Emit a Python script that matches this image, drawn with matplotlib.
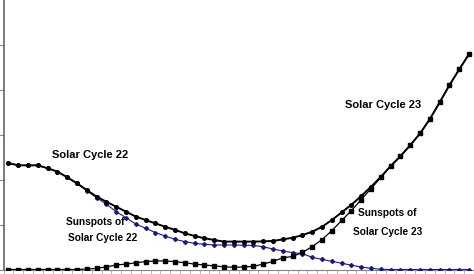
import matplotlib
matplotlib.use("Agg")
import matplotlib.pyplot as plt
import numpy as np

# Monthly index (48 months)
months = list(range(48))

total = [47.3, 46.3, 46.3, 46.3, 45.0, 43.5, 41.0, 38.3, 35.3, 32.4,
         30.1, 27.9, 25.7, 23.5, 22.0, 20.5, 19.0, 17.6, 16.1, 14.9,
         13.9, 13.1, 12.4, 12.4, 12.4, 12.4, 12.5, 12.7, 13.4, 14.1,
         15.3, 16.8, 19.0, 22.0, 25.4, 28.8, 32.7, 36.8, 41.2, 46.0,
         50.4, 55.3, 60.5, 66.9, 74.3, 82.0, 89.0, 95.8]

sunspots22 = [47.3, 46.3, 46.3, 46.3, 45.0, 43.5, 41.0, 38.3, 35.1, 31.9,
              29.0, 25.7, 23.0, 20.2, 18.3, 16.4, 14.9, 13.4, 12.4, 11.6,
              11.2, 10.9, 10.9, 10.9, 10.8, 10.7, 10.1, 9.1, 8.2, 7.5,
              7.0, 5.4, 4.5, 3.6, 2.8, 1.9, 1.1, 0.5, 0.1, 0.0,
              0.0, 0.0, 0.0, 0.0, 0.0, 0.0, 0.0, 0.0]

sunspots23 = [0.0, 0.0, 0.0, 0.0, 0.0, 0.0, 0.0, 0.0, 0.2, 0.5,
              1.2, 2.0, 2.4, 3.0, 3.5, 3.8, 3.8, 3.5, 3.0, 2.4,
              2.0, 1.6, 1.2, 1.0, 1.1, 1.4, 2.4, 3.6, 5.2, 5.8,
              7.6, 10.2, 13.3, 17.3, 21.8, 26.2, 31.1, 36.0, 40.9, 46.0,
              50.4, 55.3, 60.5, 66.9, 74.3, 82.0, 89.0, 95.8]

labels = ["Solar Cycle 22", "Solar Cycle 23", "Sunspots of", "Solar Cycle 22",
          "Sunspots of", "Solar Cycle 23"]

plt.rcParams['font.family'] = ['Liberation Sans', 'DejaVu Sans']

W, H = 474, 274
fig = plt.figure(figsize=(W / 100, H / 100), dpi=100)
ax = fig.add_axes([3.5 / W, 4.5 / H, (W - 3.5) / W, 269.5 / H])

ax.plot(months, sunspots22, color='#1a1a80', lw=0.8, marker='D', ms=2.0,
        mfc='#1a1a80', mec='#1a1a80', zorder=3)
ax.plot(months, sunspots23, color='black', lw=0.9, marker='s', ms=3.0,
        mfc='black', mec='black', zorder=4)
ax.plot(months, total, color='black', lw=1.4, marker='o', ms=2.6,
        mfc='black', mec='black', zorder=5)

ax.set_xlim(-0.5, 47.5)
ax.set_ylim(0, 119.8)
ax.set_yticks(np.arange(0, 120, 20))
ax.set_xticks(np.arange(-0.5, 48, 1))
ax.set_xticklabels([])
ax.set_yticklabels([])
ax.tick_params(axis='y', direction='out', length=4, width=0.8, color='#888888')
ax.tick_params(axis='x', direction='out', length=4, width=0.6, color='#aaaaaa')
for s in ['top', 'right']:
    ax.spines[s].set_visible(False)
ax.spines['left'].set_color('#666666')
ax.spines['left'].set_linewidth(1.2)
ax.spines['bottom'].set_color('#888888')
ax.spines['bottom'].set_linewidth(0.8)
ax.set_clip_on(False)

def px(x, y):
    return (x / W, 1 - y / H)

fs_big = 8.0
fs_small = 7.3
fig.text(*px(52, 155), labels[0], fontsize=fs_big, fontweight='bold', va='center', ha='left')
fig.text(*px(345, 105), labels[1], fontsize=fs_big, fontweight='bold', va='center', ha='left')
fig.text(*px(66, 222), labels[2], fontsize=fs_small, fontweight='bold', va='center', ha='left')
fig.text(*px(68, 238), labels[3], fontsize=fs_small, fontweight='bold', va='center', ha='left')
fig.text(*px(358, 213), labels[4], fontsize=fs_small, fontweight='bold', va='center', ha='left')
fig.text(*px(353, 232), labels[5], fontsize=fs_small, fontweight='bold', va='center', ha='left')

fig.savefig('out.png', dpi=100)
